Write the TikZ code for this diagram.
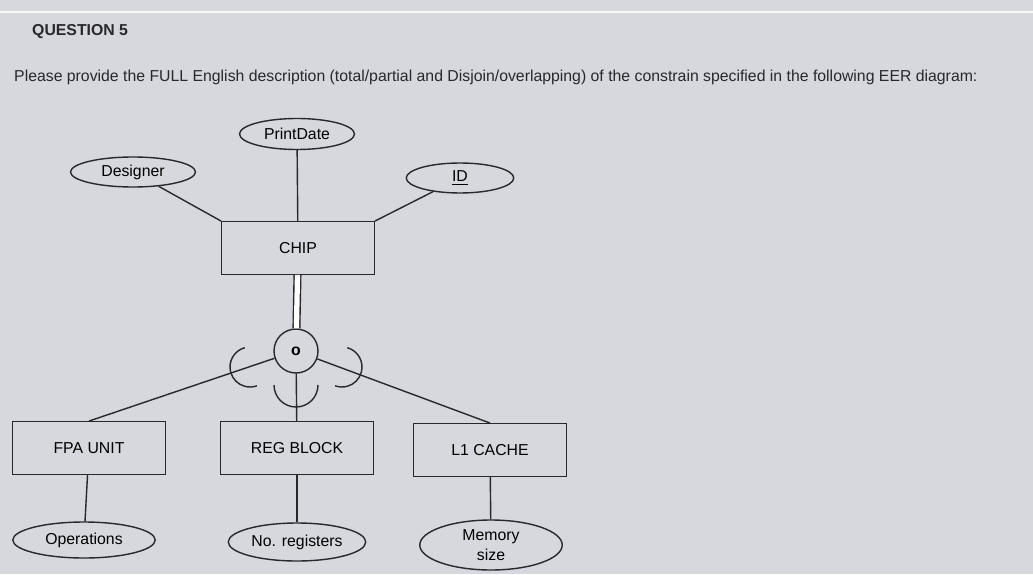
\documentclass[tikz,border=0pt]{standalone}
\usepackage{fontspec}
\setmainfont{Liberation Sans}
\usetikzlibrary{shapes.geometric}
\definecolor{paper}{RGB}{214,216,222}
\definecolor{ink}{RGB}{40,40,45}
\tikzset{
  ent/.style = {draw=ink, thick, fill=paper, minimum width=3.05cm, minimum height=1.05cm, font=\small},
  att/.style = {draw=ink, thick, ellipse, fill=paper, inner sep=1pt, font=\small, align=center},
  lnk/.style = {draw=ink, thick}
}
\begin{document}
\begin{tikzpicture}[x=0.02cm, y=-0.02cm]
\useasboundingbox[fill=paper] (0,0) rectangle (1033,574);
\draw[white!80!paper, line width=1pt] (0,12) -- (1033,12);
\node[anchor=west, font=\small\bfseries, text=ink] (q) at (26,32) {QUESTION 5};
\node[anchor=west, font=\small, text=ink] (txt) at (8,77) {Please provide the FULL English description (total/partial and Disjoin/overlapping) of the constrain specified in the following EER diagram:};

% entities
\node[ent] (chip) at (298,248) {CHIP};
\node[ent] (fpa) at (89,448) {FPA UNIT};
\node[ent] (reg) at (297,448) {REG BLOCK};
\node[ent] (l1) at (490,450) {L1 CACHE};

% attributes
\node[att, minimum width=2.3cm, minimum height=0.62cm] (pdate) at (297,134) {PrintDate};
\node[att, minimum width=2.5cm, minimum height=0.6cm] (des) at (133,172) {Designer};
\node[att, minimum width=2.15cm, minimum height=0.6cm] (id) at (460,178) {\underline{ID}};
\node[att, minimum width=2.85cm, minimum height=0.72cm] (ops) at (84,540) {Operations};
\node[att, minimum width=2.75cm, minimum height=0.76cm] (nreg) at (297,542) {No. registers};
\node[att, minimum width=2.85cm, minimum height=1.0cm] (mem) at (491,545) {Memory\\size};

% specialization circle
\node[draw=ink, thick, circle, fill=paper, minimum size=0.88cm, font=\small\bfseries] (spec) at (296,351) {o};

\draw[lnk] (pdate) -- (chip);
\draw[lnk] (des) -- (chip.north west);
\draw[lnk] (id) -- (chip.north east);
\draw[lnk, double, double distance=3pt] (chip) -- (spec);
\draw[lnk] (spec) -- (fpa.north);
\draw[lnk] (spec) -- (reg);
\draw[lnk] (spec) -- (l1.north);
\draw[lnk] (fpa) -- (ops);
\draw[lnk] (reg) -- (nreg);
\draw[lnk] (l1) -- (mem);

% subset marks (y axis points down, so angles are mirrored)
\draw[lnk] (250,367) ++(-105:20) arc[start angle=-105, end angle=-290, radius=20];
\draw[lnk] (296,385) ++(180:22) arc[start angle=180, end angle=0, radius=22];
\draw[lnk] (342,367) ++(-75:20) arc[start angle=-75, end angle=110, radius=20];
\end{tikzpicture}
\end{document}
